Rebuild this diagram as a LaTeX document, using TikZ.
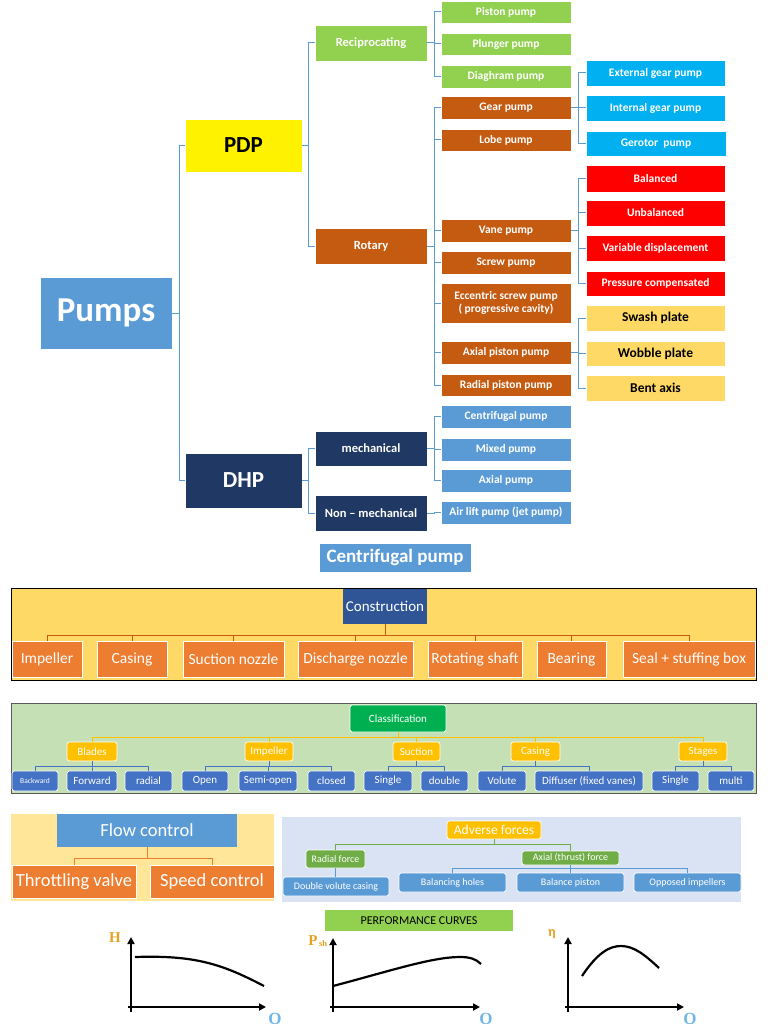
\documentclass[tikz,border=0pt]{standalone}
\usepackage{fontspec}
\setmainfont{Carlito}
\newfontfamily\serifb{Liberation Serif}
\usetikzlibrary{arrows.meta}
\definecolor{cblue}{HTML}{5B9BD5}
\definecolor{cnavy}{HTML}{203864}
\definecolor{cgreen}{HTML}{92D050}
\definecolor{cbrown}{HTML}{C55A11}
\definecolor{ccyan}{HTML}{00B0F0}
\definecolor{cred}{HTML}{FF0000}
\definecolor{cgold}{HTML}{FFD966}
\definecolor{corange}{HTML}{ED7D31}
\definecolor{cdblue}{HTML}{2F5597}
\definecolor{cgreenbg}{HTML}{C5E0B4}
\definecolor{cdgreen}{HTML}{00B050}
\definecolor{camber}{HTML}{FFC000}
\definecolor{cmblue}{HTML}{4472C4}
\definecolor{cpale}{HTML}{FFE699}
\definecolor{cblubg}{HTML}{DAE3F3}
\definecolor{cleaf}{HTML}{70AD47}
\definecolor{clab}{HTML}{E8A020}
\definecolor{cqblue}{HTML}{6FB7E8}
\newcommand\placebox[7]{%
  \pgfmathsetmacro\pbw{#5-(#3)}%
  \pgfmathsetmacro\pbh{#6-(#4)}%
  \pgfmathsetmacro\pbx{((#3)+(#5))/2}%
  \pgfmathsetmacro\pby{((#4)+(#6))/2}%
  \node[#1, minimum width=\pbw pt, minimum height=\pbh pt] (#2) at (\pbx,\pby) {#7};}
\tikzset{
  every node/.style={inner sep=0pt, outer sep=0pt, align=center},
  bb/.style={draw=white, line width=0.7pt, text=white, font=\fontsize{11.5}{13}\selectfont\bfseries},
  lvtwo/.style={bb, font=\fontsize{12.5}{14}\selectfont\bfseries},
  big/.style={bb, font=\fontsize{23}{26}\selectfont\bfseries},
  dark/.style={bb, fill=cgold, text=black, font=\fontsize{13.5}{15}\selectfont\bfseries},
  tree/.style={draw=cblue, line width=1pt},
  reg/.style={draw=white, line width=0.8pt, text=white, font=\fontsize{15.5}{17}\selectfont},
  rb/.style={draw=white, line width=0.7pt, rounded corners=2.5pt, text=white, font=\fontsize{11}{12}\selectfont},
  sb/.style={draw=white, line width=0.7pt, rounded corners=2.5pt, text=white, font=\fontsize{10}{11}\selectfont},
  axisline/.style={line width=2.2pt, -{Triangle[length=7pt,width=7pt]}},
  curve/.style={line width=2.2pt},
}
\begin{document}
\begin{tikzpicture}[x=1pt,y=-1pt]
\useasboundingbox (0,0) rectangle (768,1024);
\fill[white] (0,0) rectangle (768,1024);

% ---------- top tree ----------
\placebox{big, fill=cblue, font=\fontsize{35}{38}\selectfont\bfseries}{pumps}{40}{277}{172}{349}{Pumps}
\placebox{big, fill=yellow, text=black}{pdp}{185}{119}{302}{172}{PDP}
\placebox{big, fill=cnavy}{dhp}{185}{453}{302}{508}{DHP}
\placebox{lvtwo, fill=cgreen}{recip}{315}{25}{427}{61}{Reciprocating}
\placebox{lvtwo, fill=cbrown}{rotary}{315}{228}{427}{264}{Rotary}
\placebox{lvtwo, fill=cnavy}{mech}{315}{431}{427}{466}{mechanical}
\placebox{lvtwo, fill=cnavy}{nonmech}{315}{495}{427}{531}{Non – mechanical}

\placebox{bb, fill=cgreen}{piston}{441}{1}{571}{23}{Piston pump}
\placebox{bb, fill=cgreen}{plunger}{441}{33}{571}{55}{Plunger pump}
\placebox{bb, fill=cgreen}{diag}{441}{65}{571}{88}{Diaghram pump}
\placebox{bb, fill=cbrown}{gear}{441}{96}{571}{119}{Gear pump}
\placebox{bb, fill=cbrown}{lobe}{441}{129}{571}{151}{Lobe pump}
\placebox{bb, fill=cbrown}{vane}{441}{219}{571}{242}{Vane pump}
\placebox{bb, fill=cbrown}{screw}{441}{251}{571}{274}{Screw pump}
\placebox{bb, fill=cbrown}{ecc}{441}{283}{571}{323}{Eccentric screw pump\\( progressive cavity)}
\placebox{bb, fill=cbrown}{axpist}{441}{341}{571}{364}{Axial piston pump}
\placebox{bb, fill=cbrown}{radpist}{441}{374}{571}{396}{Radial piston pump}
\placebox{bb, fill=cblue}{centr}{441}{405}{571}{428}{Centrifugal pump}
\placebox{bb, fill=cblue}{mixed}{441}{438}{571}{461}{Mixed pump}
\placebox{bb, fill=cblue}{axial}{441}{469}{571}{492}{Axial pump}
\placebox{bb, fill=cblue}{airlift}{441}{501}{571}{524}{Air lift pump (jet pump)}

\placebox{bb, fill=ccyan}{extg}{586}{60}{725}{86}{External gear pump}
\placebox{bb, fill=ccyan}{intg}{586}{95}{725}{121}{Internal gear pump}
\placebox{bb, fill=ccyan}{gerot}{586}{131}{726}{156}{Gerotor~~pump}
\placebox{bb, fill=cred}{bal}{586}{165}{725}{192}{Balanced}
\placebox{bb, fill=cred}{unbal}{586}{200}{725}{226}{Unbalanced}
\placebox{bb, fill=cred}{vardisp}{586}{235}{725}{261}{Variable displacement}
\placebox{bb, fill=cred}{prcomp}{586}{271}{725}{296}{Pressure compensated}
\placebox{dark}{swash}{586}{305}{725}{331}{Swash plate}
\placebox{dark}{wobble}{586}{341}{725}{366}{Wobble plate}
\placebox{dark}{bent}{586}{375}{725}{401}{Bent axis}

\foreach \c in {pdp,dhp} \draw[tree] (pumps.east) -- ++(7,0) |- (\c.west);
\foreach \c in {recip,rotary} \draw[tree] (pdp.east) -- ++(6,0) |- (\c.west);
\foreach \c in {mech,nonmech} \draw[tree] (dhp.east) -- ++(6,0) |- (\c.west);
\foreach \c in {piston,plunger,diag} \draw[tree] (recip.east) -- ++(7,0) |- (\c.west);
\foreach \c in {gear,lobe,vane,screw,ecc,axpist,radpist} \draw[tree] (rotary.east) -- ++(7,0) |- (\c.west);
\foreach \c in {centr,mixed,axial} \draw[tree] (mech.east) -- ++(7,0) |- (\c.west);
\draw[tree] (nonmech.east) -- ++(7,0) |- (airlift.west);
\foreach \c in {extg,intg,gerot} \draw[tree] (gear.east) -- ++(7.5,0) |- (\c.west);
\foreach \c in {bal,unbal,vardisp,prcomp} \draw[tree] (vane.east) -- ++(7.5,0) |- (\c.west);
\foreach \c in {swash,wobble,bent} \draw[tree] (axpist.east) -- ++(7.5,0) |- (\c.west);

% ---------- centrifugal pump ----------
\placebox{bb, fill=cblue, font=\fontsize{19}{21}\selectfont\bfseries}{cphead}{319}{543}{471}{572}{Centrifugal pump}

% construction
\filldraw[fill=cgold, draw=black, line width=0.8pt] (11,588) rectangle (756,680);
\placebox{reg, draw=none, fill=cdblue, font=\fontsize{15}{17}\selectfont}{constr}{343}{589}{427}{624}{Construction}
\placebox{reg, fill=corange}{impl}{12}{641}{82}{677}{Impeller}
\placebox{reg, fill=corange}{casg}{97}{641}{167}{677}{Casing}
\placebox{reg, fill=corange}{sucn}{183}{641}{284}{677}{Suction nozzle}
\placebox{reg, fill=corange}{disn}{298}{641}{413}{677}{Discharge nozzle}
\placebox{reg, fill=corange}{rots}{428}{641}{522}{677}{Rotating shaft}
\placebox{reg, fill=corange}{bear}{537}{641}{606}{677}{Bearing}
\placebox{reg, fill=corange}{seal}{623}{641}{755}{677}{Seal + stuffing box}
\foreach \c in {impl,casg,sucn,disn,rots,bear,seal}
  \draw[draw=cbrown, line width=0.8pt] (constr.south) -- ++(0,11) -| (\c.north);

% classification
\filldraw[fill=cgreenbg, draw=black!65, line width=0.7pt] (11,703) rectangle (756,793);
\placebox{rb, fill=cdgreen}{classif}{350}{705}{446}{732}{Classification}
\placebox{rb, fill=camber}{blades}{67}{742}{117}{761}{Blades}
\placebox{rb, fill=camber}{imp2}{245}{742}{293}{761}{Impeller}
\placebox{rb, fill=camber}{suc2}{393}{742}{440}{761}{Suction}
\placebox{rb, fill=camber}{cas2}{511}{742}{560}{761}{Casing}
\placebox{rb, fill=camber}{stages}{679}{742}{727}{761}{Stages}
\placebox{rb, fill=cmblue, font=\fontsize{7.5}{8}\selectfont}{backw}{12}{771}{58}{791}{Backward}
\placebox{rb, fill=cmblue}{forw}{67}{771}{117}{791}{Forward}
\placebox{rb, fill=cmblue}{radl}{125}{771}{172}{791}{radial}
\placebox{rb, fill=cmblue}{open}{182}{771}{228}{791}{Open}
\placebox{rb, fill=cmblue}{semi}{239}{771}{297}{791}{Semi-open}
\placebox{rb, fill=cmblue}{closed}{308}{771}{355}{791}{closed}
\placebox{rb, fill=cmblue}{sing1}{364}{771}{412}{791}{Single}
\placebox{rb, fill=cmblue}{double}{421}{771}{468}{791}{double}
\placebox{rb, fill=cmblue}{volute}{478}{771}{526}{791}{Volute}
\placebox{rb, fill=cmblue}{diff}{535}{771}{643}{791}{Diffuser (fixed vanes)}
\placebox{rb, fill=cmblue}{sing2}{652}{771}{699}{791}{Single}
\placebox{rb, fill=cmblue}{multi}{708}{771}{754}{791}{multi}
\foreach \c in {blades,imp2,suc2,cas2,stages}
  \draw[draw=camber, line width=0.8pt] (classif.south) -- ++(0,5) -| (\c.north);
\foreach \p/\c in {blades/backw,blades/forw,blades/radl,imp2/open,imp2/semi,imp2/closed,suc2/sing1,suc2/double,cas2/volute,cas2/diff,stages/sing2,stages/multi}
  \draw[draw=cmblue, line width=0.8pt] (\p.south) -- ++(0,5) -| (\c.north);

% flow control
\fill[cpale] (11,814) rectangle (274,901);
\placebox{reg, draw=none, fill=cblue, font=\fontsize{18.5}{20}\selectfont}{flowc}{57}{814}{237}{847}{Flow control}
\placebox{reg, fill=corange, font=\fontsize{18.5}{20}\selectfont}{throt}{12}{865}{136}{898}{Throttling valve}
\placebox{reg, fill=corange, font=\fontsize{18.5}{20}\selectfont}{speed}{150}{865}{274}{898}{Speed control}
\foreach \c in {throt,speed}
  \draw[draw=corange, line width=0.8pt] (flowc.south) -- ++(0,11) -| (\c.north);

% adverse forces
\fill[cblubg] (282,817) rectangle (741,902);
\placebox{rb, fill=camber, font=\fontsize{13.5}{15}\selectfont}{advf}{447}{821}{541}{839}{Adverse forces}
\placebox{sb, fill=cleaf}{radf}{306}{850}{365}{868}{Radial force}
\placebox{sb, fill=cleaf}{axf}{522}{851}{619}{865}{Axial (thrust) force}
\placebox{sb, fill=cblue}{dvol}{283}{877}{389}{896}{Double volute casing}
\placebox{sb, fill=cblue}{balh}{399}{873}{506}{892}{Balancing holes}
\placebox{sb, fill=cblue}{balp}{517}{873}{624}{892}{Balance piston}
\placebox{sb, fill=cblue}{oppi}{634}{873}{741}{892}{Opposed impellers}
\foreach \c in {radf,axf}
  \draw[draw=cleaf, line width=0.8pt] (advf.south) -- ++(0,5) -| (\c.north);
\foreach \c in {balh,balp,oppi}
  \draw[draw=cblue, line width=0.8pt] (axf.south) -- ++(0,3) -| (\c.north);
\draw[draw=cblue, line width=0.8pt] (radf.south) -- (radf.south |- dvol.north);

% performance curves
\placebox{draw=none, fill=cgreen, text=black, font=\fontsize{12}{13}\selectfont}{perf}{325}{910}{513}{931}{PERFORMANCE CURVES}

% graph 1
\draw[axisline] (131,1012) -- (131,937);
\draw[axisline] (128,1007) -- (266,1007);
\draw[curve] (135,957) .. controls (195,955) and (222,964) .. (264,986);
\node[text=clab, font=\serifb\bfseries\fontsize{15}{16}\selectfont] (hlab) at (115,938) {H};
\node[text=cqblue, font=\serifb\bfseries\fontsize{17}{18}\selectfont, anchor=north] (q1) at (275,1013) {Q};

% graph 2
\draw[axisline] (333,1012) -- (333,938);
\draw[axisline] (330,1007) -- (480,1007);
\draw[curve] (333,986) .. controls (390,971) and (432,957) .. (460,957) .. controls (470,957) and (476,959) .. (481,964);
\node[text=clab, font=\serifb\bfseries\fontsize{15}{16}\selectfont] (plab) at (313,941) {P};
\node[text=clab, font=\serifb\bfseries\fontsize{8.5}{9}\selectfont, anchor=west] (shlab) at (319,944) {sh};
\node[text=cqblue, font=\serifb\bfseries\fontsize{17}{18}\selectfont, anchor=north] (q2) at (486,1013) {Q};

% graph 3
\draw[axisline] (568,1012) -- (568,937);
\draw[axisline] (565,1007) -- (684,1007);
\draw[curve] (582,976) .. controls (598,952) and (610,946) .. (621,946) .. controls (634,946) and (645,955) .. (659,968);
\node[text=clab, font=\bfseries\fontsize{14}{15}\selectfont] (etalab) at (552,934) {η};
\node[text=cqblue, font=\serifb\bfseries\fontsize{17}{18}\selectfont, anchor=north] (q3) at (690,1013) {Q};
\end{tikzpicture}
\end{document}
